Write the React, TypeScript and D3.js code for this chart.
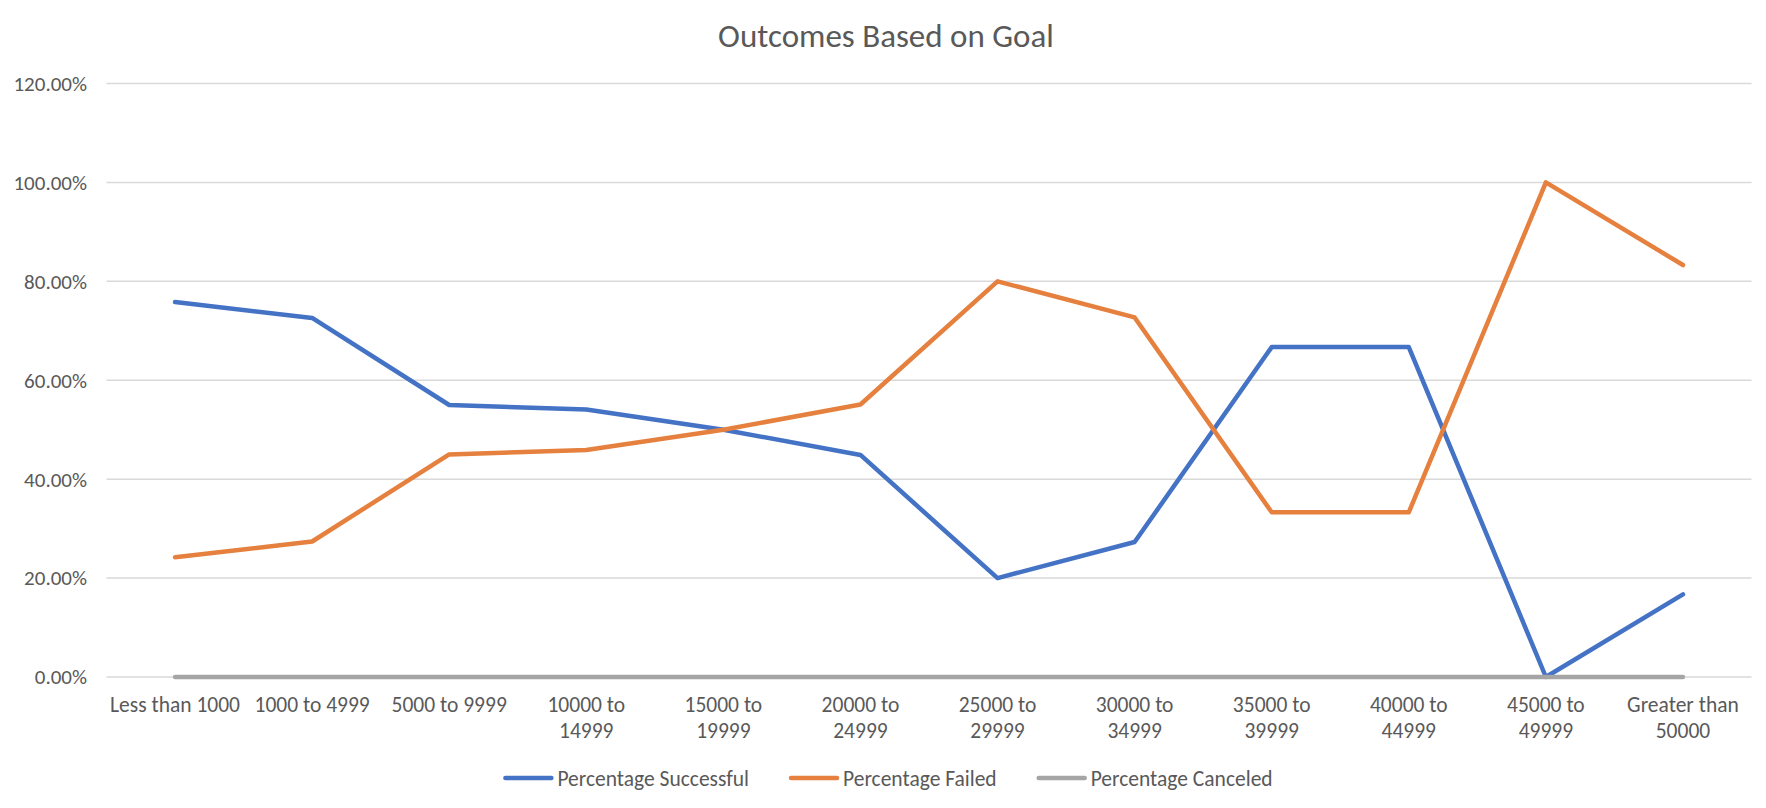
import { useEffect, useRef } from "react";
import * as d3 from "d3";

// goal ranges along the x axis; "\n" marks where Excel wraps the label
const categories = [
  "Less than 1000",
  "1000 to 4999",
  "5000 to 9999",
  "10000 to\n14999",
  "15000 to\n19999",
  "20000 to\n24999",
  "25000 to\n29999",
  "30000 to\n34999",
  "35000 to\n39999",
  "40000 to\n44999",
  "45000 to\n49999",
  "Greater than\n50000",
];

const successful = [0.758, 0.726, 0.55, 0.541, 0.5, 0.449, 0.2, 0.273, 0.667, 0.667, 0, 0.167];
const failed = [0.242, 0.274, 0.45, 0.459, 0.5, 0.551, 0.8, 0.727, 0.333, 0.333, 1, 0.833];
const canceled = [0, 0, 0, 0, 0, 0, 0, 0, 0, 0, 0, 0];

const yTicks = [0, 0.2, 0.4, 0.6, 0.8, 1.0, 1.2];

const seriesNames = ["Percentage Successful", "Percentage Failed", "Percentage Canceled"];
const seriesColors = ["#4472C4", "#E5803E", "#A5A5A5"];

const WIDTH = 1766;
const HEIGHT = 808;
const FONT = "Calibri, Carlito, Lato, sans-serif";
const TEXT_COLOR = "#595959";

export default function App() {
  const ref = useRef<SVGSVGElement>(null);

  useEffect(() => {
    if (!ref.current) return;
    const svg = d3.select(ref.current);
    svg.selectAll("*").remove();

    const plot = { left: 106.5, right: 1751.5, top: 83.5, bottom: 677 };

    const x = d3.scalePoint<string>()
      .domain(categories)
      .range([plot.left, plot.right])
      .padding(0.5);

    const y = d3.scaleLinear()
      .domain([0, 1.2])
      .range([plot.bottom, plot.top]);

    svg.append("rect").attr("width", WIDTH).attr("height", HEIGHT).attr("fill", "#fff");

    // title
    svg.append("text")
      .attr("x", 886)
      .attr("y", 47)
      .attr("text-anchor", "middle")
      .attr("font-family", FONT)
      .attr("font-size", 33)
      .attr("fill", TEXT_COLOR)
      .text("Outcomes Based on Goal");

    // gridlines
    svg.append("g")
      .selectAll("line")
      .data(yTicks)
      .join("line")
        .attr("x1", plot.left)
        .attr("x2", plot.right)
        .attr("y1", d => y(d))
        .attr("y2", d => y(d))
        .attr("stroke", "#D9D9D9")
        .attr("stroke-width", 1.5);

    // y axis labels
    svg.append("g")
      .selectAll("text")
      .data(yTicks)
      .join("text")
        .attr("x", 87)
        .attr("y", d => y(d))
        .attr("dy", "0.35em")
        .attr("text-anchor", "end")
        .attr("font-family", FONT)
        .attr("font-size", 21)
        .attr("fill", TEXT_COLOR)
        .text(d => d3.format(".2%")(d));

    // x axis labels, wrapped on "\n"
    const xLabels = svg.append("g")
      .selectAll("text")
      .data(categories)
      .join("text")
        .attr("x", d => x(d)!)
        .attr("y", 712)
        .attr("text-anchor", "middle")
        .attr("font-family", FONT)
        .attr("font-size", 21.5)
        .attr("fill", TEXT_COLOR);
    xLabels.each(function (d) {
      const t = d3.select(this);
      d.split("\n").forEach((part, i) => {
        t.append("tspan")
          .attr("x", x(d)!)
          .attr("dy", i === 0 ? 0 : 25.7)
          .text(part);
      });
    });

    // lines
    const line = d3.line<number>()
      .x((_, i) => x(categories[i])!)
      .y(d => y(d));

    [successful, failed, canceled].forEach((values, i) => {
      svg.append("path")
        .datum(values)
        .attr("d", line)
        .attr("fill", "none")
        .attr("stroke", seriesColors[i])
        .attr("stroke-width", 4.5)
        .attr("stroke-linejoin", "round")
        .attr("stroke-linecap", "round");
    });

    // legend, centred under the chart
    const legend = svg.append("g");
    const items = seriesNames.map((name, i) => {
      const g = legend.append("g");
      g.append("line")
        .attr("x1", 0)
        .attr("x2", 46)
        .attr("y1", 0)
        .attr("y2", 0)
        .attr("stroke", seriesColors[i])
        .attr("stroke-width", 4.5)
        .attr("stroke-linecap", "round");
      const label = g.append("text")
        .attr("x", 52)
        .attr("dy", "0.35em")
        .attr("font-family", FONT)
        .attr("font-size", 21.5)
        .attr("fill", TEXT_COLOR)
        .text(name);
      const w = 52 + (label.node() as SVGTextElement).getComputedTextLength();
      return { g, w };
    });
    const gap = 42;
    const total = d3.sum(items, d => d.w) + gap * (items.length - 1);
    let cx = 889 - total / 2;
    items.forEach(({ g, w }) => {
      g.attr("transform", `translate(${cx},778)`);
      cx += w + gap;
    });
  }, []);

  return (
    <svg
      ref={ref}
      width={WIDTH}
      height={HEIGHT}
      style={{ position: "absolute", left: 0, top: 0 }}
    />
  );
}
